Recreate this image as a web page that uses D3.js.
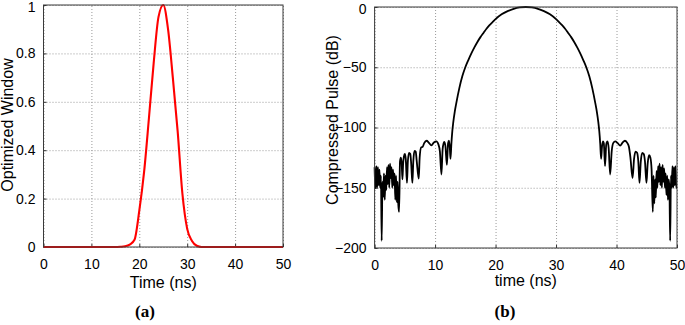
<!DOCTYPE html>
<html><head><meta charset="utf-8">
<script src="https://cdn.jsdelivr.net/npm/d3@7"></script>
<style>
body{margin:0;background:#fff;}
svg{display:block;font-family:"Liberation Sans",Arial,sans-serif;}
</style></head><body>
<svg id="c" width="685" height="325"></svg>
<script>
// ---- Data ----
const windowTime = [0,5,10,15,16,17,18,19,20,21,22,23,24,25,26,27,28,29,30,31,32,33,35,40,45,50];
const windowValue = [0,0,0,0,0.001,0.003,0.01,0.03,0.15,0.31,0.53,0.76,0.95,1.0,0.9,0.7,0.48,0.22,0.075,0.025,0.005,0,0,0,0,0];

const pulseTime = [
0.00,0.10,0.20,0.30,0.42,0.55,0.68,0.80,0.92,1.05,1.17,1.30,1.42,1.55,1.68,1.80,1.92,2.05,2.18,2.30,
2.42,2.55,2.68,2.80,2.92,3.05,3.18,3.30,3.42,3.55,3.68,3.80,3.92,4.05,4.20,
4.35,4.48,4.60,4.72,4.85,5.00,5.15,5.35,5.50,5.70,5.90,6.05,6.25,6.40,6.60,6.80,6.95,7.30,7.45,7.70,7.95,
8.20,8.60,8.95,9.40,9.80,10.20,10.55,10.80,11.05,11.25,11.50,11.70,11.95,12.15,12.30,12.45,12.55,12.70,12.85,
13.00,13.25,13.50,14.00,14.50,15.00,15.50,16.00,16.50,17.00,17.50,18.00,18.50,19.00,19.50,20.00,21.00,22.00,23.00,24.00,
25.00,26.00,27.00,28.00,29.00,30.00,30.50,31.00,31.50,32.00,32.50,33.00,33.50,34.00,34.50,35.00,35.50,36.00,36.50,36.75,
37.00,37.15,37.30,37.45,37.60,37.75,37.90,38.10,38.30,38.50,38.70,38.95,39.20,39.45,39.80,40.20,40.60,41.00,41.40,41.80,
42.05,42.30,42.65,42.90,43.15,43.40,43.60,43.80,44.00,44.25,44.50,44.70,44.95,45.15,45.40,45.60,45.80,46.00,
46.12,46.25,46.38,46.50,46.62,46.75,46.88,47.00,47.12,47.25,47.38,47.50,47.62,47.75,47.88,48.00,48.12,48.25,48.38,48.50,
48.62,48.75,48.87,49.00,49.12,49.25,49.38,49.50,49.62,49.75,49.88,50.00];
const pulseDb = [
-133,-150,-150,-132,-150,-133,-148,-135,-150,-140,-194,-145,-158,-138,-160,-140,-152,-133,-147,-131,
-150,-130,-142,-133,-150,-135,-148,-138,-160,-140,-162,-145,-164,-170,-128,
-125,-130,-143,-130,-124,-122,-126,-146,-128,-121,-122,-130,-146,-128,-119.5,-120,-127,-142.5,-125,-116.5,-116,
-113,-111,-112.5,-114.8,-112.5,-111.5,-114,-120,-139,-118,-112,-115,-131,-113,-111,-118,-126,-113,-103,
-96,-87,-80,-67.5,-57.5,-50,-44,-38.5,-33.5,-29,-25,-21.5,-18,-15,-12.5,-10,-6,-3.4,-1.5,-0.4,
0,-0.4,-1.5,-3.4,-6,-10,-12.5,-15,-18,-21.5,-25,-29,-33.5,-38.5,-44,-50,-57.5,-67.5,-80,-87,
-96,-103,-113,-126,-116,-111.5,-113,-132,-114,-111.5,-117,-139,-120,-113,-111.5,-113,-115,-112.5,-111,-113,
-116,-125,-142,-126,-120,-121,-128,-146,-129,-121,-122,-128,-146,-130,-123,-125,-135,-170,
-140,-163,-143,-158,-136,-150,-132,-145,-130,-148,-133,-150,-131,-145,-134,-150,-138,-156,-140,-160,
-143,-150,-194,-140,-150,-132,-150,-133,-148,-132,-150,-150];

const xTicks = [0,10,20,30,40,50];
const windowTicks = [0,0.2,0.4,0.6,0.8,1];
const pulseTicks = [0,-50,-100,-150,-200];

// ---- Drawing ----
const svg = d3.select("#c");

function panel(opts){
  const g = svg.append("g");
  const x = d3.scaleLinear().domain([0,50]).range([opts.x0, opts.x1]);
  const y = d3.scaleLinear().domain(opts.yDomain).range([opts.y1, opts.y0]);
  // grid
  const gx = g.append("g").attr("transform",`translate(0,${opts.y1})`)
    .call(d3.axisBottom(x).tickValues(xTicks).tickSize(-(opts.y1-opts.y0)).tickFormat(""));
  const gy = g.append("g").attr("transform",`translate(${opts.x0},0)`)
    .call(d3.axisLeft(y).tickValues(opts.yTicks).tickSize(-(opts.x1-opts.x0)).tickFormat(""));
  [gx,gy].forEach(a=>{
    a.select(".domain").remove();
    a.selectAll("line").attr("stroke","#9a9a9a").attr("stroke-width",1).attr("stroke-dasharray","1,2");
  });
  // inward ticks
  const tx = g.append("g").attr("transform",`translate(0,${opts.y1})`)
    .call(d3.axisBottom(x).tickValues(xTicks).tickSize(-3).tickPadding(12)
      .tickFormat(d3.format("d")));
  const ty = g.append("g").attr("transform",`translate(${opts.x0},0)`)
    .call(d3.axisLeft(y).tickValues(opts.yTicks).tickSize(-3).tickPadding(8)
      .tickFormat(opts.yFormat));
  [tx,ty].forEach(a=>{
    a.select(".domain").remove();
    a.selectAll("line").attr("stroke","#333");
    a.selectAll("text").attr("font-size",14).attr("fill","#000")
      .attr("font-family","'Liberation Sans',Arial,sans-serif");
  });
  // keep top tick label inside the canvas
  ty.selectAll(".tick text").filter(d=>y(d)<8).attr("dy","0.45em");
  // line
  const line = d3.line().x(d=>x(d[0])).y(d=>y(d[1])).curve(d3.curveMonotoneX);
  const data = opts.xs.map((t,i)=>[t,opts.ys[i]]);
  g.append("path").datum(data).attr("d",line).attr("fill","none")
    .attr("stroke",opts.color).attr("stroke-width",opts.lw).attr("stroke-linejoin","round");
  // frame
  g.append("rect").attr("x",opts.x0).attr("y",opts.y0)
    .attr("width",opts.x1-opts.x0).attr("height",opts.y1-opts.y0)
    .attr("fill","none").attr("stroke","#3a3a3a").attr("stroke-width",1);
  // labels
  g.append("text").attr("x",(opts.x0+opts.x1)/2).attr("y",opts.xlabY)
    .attr("text-anchor","middle").attr("font-size",16).text(opts.xlabel);
  g.append("text").attr("transform",`translate(${opts.ylabX},${opts.ylabCY}) rotate(-90)`)
    .attr("text-anchor","middle").attr("font-size",16).text(opts.ylabel);
  g.append("text").attr("x",opts.capX).attr("y",317)
    .attr("text-anchor","middle").attr("font-size",17).attr("font-weight","bold")
    .attr("font-family","'Liberation Serif','Times New Roman',serif").text(opts.caption);
}

panel({x0:43.5,x1:283,y0:5,y1:247,yDomain:[0,1],yTicks:windowTicks,
  yFormat:d=>d3.format("~g")(d),xs:windowTime,ys:windowValue,color:"#ff0000",lw:2.1,
  xlabel:"Time (ns)",xlabY:288,ylabel:"Optimized Window",ylabX:13,ylabCY:125,
  caption:"(a)",capX:145});

panel({x0:374.6,x1:677,y0:7,y1:248,yDomain:[-200,0],yTicks:pulseTicks,
  yFormat:d=>d3.format("d")(d),xs:pulseTime,ys:pulseDb,color:"#000",lw:1.8,
  xlabel:"time (ns)",xlabY:286,ylabel:"Compressed Pulse (dB)",ylabX:338,ylabCY:120,
  caption:"(b)",capX:505});
</script>
</body></html>
